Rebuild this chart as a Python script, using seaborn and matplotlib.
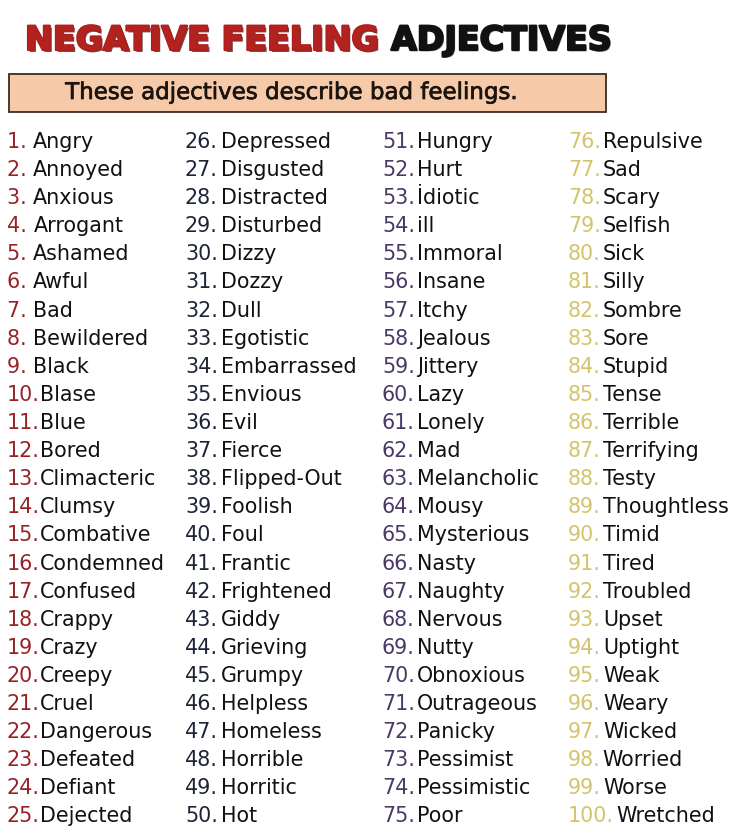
import matplotlib
matplotlib.use("Agg")
import matplotlib.pyplot as plt
import matplotlib.patheffects as pe
from matplotlib.patches import Rectangle
import pandas as pd
import seaborn as sns

sns.set_theme(style="white")
plt.rcParams['font.family'] = ['DejaVu Sans']

# ---- data ----
title_red = "NEGATIVE FEELING"
title_black = "ADJECTIVES"
subtitle = "These adjectives describe bad feelings."

col1 = ["Angry", "Annoyed", "Anxious", "Arrogant", "Ashamed", "Awful", "Bad",
        "Bewildered", "Black", "Blase", "Blue", "Bored", "Climacteric", "Clumsy",
        "Combative", "Condemned", "Confused", "Crappy", "Crazy", "Creepy", "Cruel",
        "Dangerous", "Defeated", "Defiant", "Dejected"]
col2 = ["Depressed", "Disgusted", "Distracted", "Disturbed", "Dizzy", "Dozzy", "Dull",
        "Egotistic", "Embarrassed", "Envious", "Evil", "Fierce", "Flipped-Out",
        "Foolish", "Foul", "Frantic", "Frightened", "Giddy", "Grieving", "Grumpy",
        "Helpless", "Homeless", "Horrible", "Horritic", "Hot"]
col3 = ["Hungry", "Hurt", "İdiotic", "ill", "Immoral", "Insane", "Itchy", "Jealous",
        "Jittery", "Lazy", "Lonely", "Mad", "Melancholic", "Mousy", "Mysterious",
        "Nasty", "Naughty", "Nervous", "Nutty", "Obnoxious", "Outrageous", "Panicky",
        "Pessimist", "Pessimistic", "Poor"]
col4 = ["Repulsive", "Sad", "Scary", "Selfish", "Sick", "Silly", "Sombre", "Sore",
        "Stupid", "Tense", "Terrible", "Terrifying", "Testy", "Thoughtless", "Timid",
        "Tired", "Troubled", "Upset", "Uptight", "Weak", "Weary", "Wicked", "Worried",
        "Worse", "Wretched"]

number_colors = ["#962226", "#1e2436", "#4a3866", "#d3c46c"]

# ---- layout ----
col_x = [7, 185, 382, 568]
col_gap = [0, 3, 2, 2]
row_y0, row_dy = 148, 28.1
body_size = 14.9

rows = []
for c, words in enumerate([col1, col2, col3, col4]):
    for r, w in enumerate(words):
        n = c * 25 + r + 1
        label = f"{n}. " if n < 10 else f"{n}."
        rows.append({"col": c, "row": r, "num": label, "word": w})
df = pd.DataFrame(rows)
palette = sns.color_palette(number_colors)

fig = plt.figure(figsize=(7.48, 8.40), dpi=100)
ax = fig.add_axes([0, 0, 1, 1])
ax.set_xlim(0, 748)
ax.set_ylim(840, 0)
ax.axis("off")

# title (stroke to make it heavier, plus a dark drop shadow)
shadow_red = [pe.withSimplePatchShadow(offset=(1.4, -1.4), shadow_rgbFace="#4a0808", alpha=0.75),
              pe.withStroke(linewidth=1.6, foreground="#a81e1b")]
shadow_blk = [pe.withSimplePatchShadow(offset=(1.0, -1.0), shadow_rgbFace="#555555", alpha=0.5),
              pe.withStroke(linewidth=1.6, foreground="#111111")]
ax.text(25, 50, title_red, fontsize=24.0, fontweight="bold", color="#b3221e",
        va="baseline", ha="left", path_effects=shadow_red)
ax.text(391, 50, title_black, fontsize=24.0, fontweight="bold", color="#111111",
        va="baseline", ha="left", path_effects=shadow_blk)

# subtitle box
ax.add_patch(Rectangle((9, 74), 597, 38, facecolor="#f6caa8", edgecolor="#3b2b22", linewidth=1.3))
ax.text(291, 99, subtitle, fontsize=16.5, color="#1a1410", ha="center", va="baseline",
        path_effects=[pe.withStroke(linewidth=0.5, foreground="#1a1410")])

# list
for _, rw in df.iterrows():
    y = row_y0 + rw["row"] * row_dy
    num = ax.text(col_x[rw["col"]], y, rw["num"], fontsize=body_size,
                  color=palette[rw["col"]], ha="left", va="baseline")
    ax.annotate(rw["word"], xy=(1, y), xycoords=(num, "data"),
                xytext=(col_gap[rw["col"]], 0), textcoords="offset pixels",
                fontsize=body_size, color="#111111", ha="left", va="baseline")

fig.savefig("out.png", dpi=100, facecolor="white")
